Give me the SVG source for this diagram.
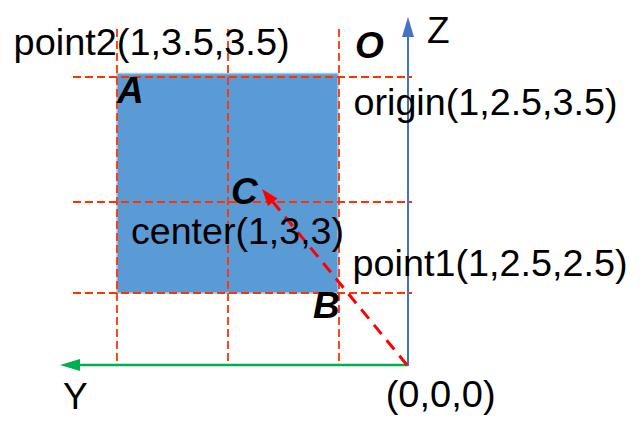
<svg xmlns="http://www.w3.org/2000/svg" width="642" height="428" viewBox="0 0 642 428">
<style>
.t{font-family:"Liberation Sans",Arial,sans-serif;font-size:37px;fill:#000}
.b{font-family:"Liberation Sans",Arial,sans-serif;font-size:37px;font-weight:bold;font-style:italic;fill:#000}
.g{stroke:#FF3300;stroke-width:1.8;stroke-dasharray:8 4;fill:none}
</style>
<rect width="642" height="428" fill="#fff"/>
<g id="plane">
<rect x="117" y="73.5" width="221" height="219.5" fill="#5B9BD5" stroke="#A4C6E8" stroke-width="1.5"/>
</g>
<g id="grid">
<line class="g" x1="73" y1="77" x2="412" y2="77"/>
<line class="g" x1="73" y1="202" x2="412" y2="202"/>
<line class="g" x1="73" y1="293" x2="412" y2="293"/>
<line class="g" x1="117" y1="29" x2="117" y2="366"/>
<line class="g" x1="228" y1="29" x2="228" y2="366"/>
<line class="g" x1="339" y1="29" x2="339" y2="366"/>
</g>
<g id="connectors">
<line x1="408" y1="366" x2="408" y2="35" stroke="#4472C4" stroke-width="2"/>
<polygon points="408,17 402,37 414,37" fill="#4472C4"/>
<line x1="408" y1="365" x2="78" y2="365" stroke="#00B050" stroke-width="2.5"/>
<polygon points="60,365 80,359 80,371" fill="#00B050"/>
<line x1="407" y1="365" x2="273" y2="202" stroke="#FF0000" stroke-width="3" stroke-dasharray="12 8"/>
<polygon points="262,189 277.5,198.5 268,206" fill="#FF0000"/>
</g>
<g id="labels">
<text class="t" x="13.6" y="55" textLength="276" lengthAdjust="spacingAndGlyphs">point2(1,3.5,3.5)</text>
<text class="b" x="355" y="58">O</text>
<text class="t" x="427" y="43">Z</text>
<text class="b" x="117" y="103">A</text>
<text class="t" x="353.5" y="115" textLength="264" lengthAdjust="spacingAndGlyphs">origin(1,2.5,3.5)</text>
<text class="b" x="231" y="204">C</text>
<text class="t" x="131" y="244" textLength="213" lengthAdjust="spacingAndGlyphs">center(1,3,3)</text>
<text class="t" x="352.6" y="276" textLength="275" lengthAdjust="spacingAndGlyphs">point1(1,2.5,2.5)</text>
<text class="b" x="313" y="318">B</text>
<text class="t" x="63" y="409">Y</text>
<text class="t" x="385.7" y="407" textLength="110" lengthAdjust="spacingAndGlyphs">(0,0,0)</text>
</g>
</svg>
